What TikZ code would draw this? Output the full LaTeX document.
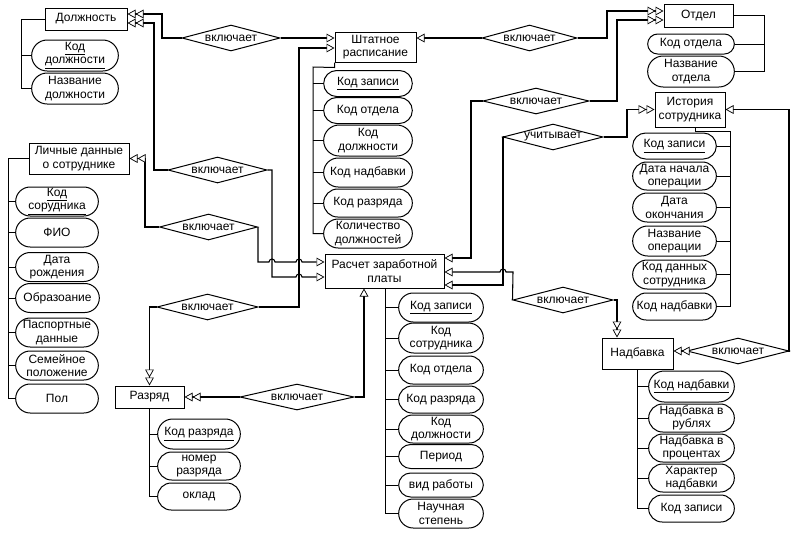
\documentclass[tikz,border=0pt]{standalone}
\usepackage{fontspec}
\setmainfont{Liberation Sans}
\usetikzlibrary{arrows.meta,shapes.geometric,shapes.misc,calc}
\begin{document}
\begin{tikzpicture}[x=0.75pt,y=-0.75pt,
  every node/.style={font=\fontsize{9pt}{10pt}\selectfont, line width=0.75pt},
  ent/.style 2 args={draw, rectangle, minimum width=#1*0.75pt, minimum height=#2*0.75pt, inner sep=0.5pt, align=center},
  attr/.style 2 args={draw, rounded rectangle, minimum width=#1*0.75pt, minimum height=#2*0.75pt, inner sep=0.5pt, align=center},
  rel/.style={draw, diamond, aspect=4, inner sep=0pt, minimum width=#1*0.75pt, minimum height=19.5pt},
  conn/.style={line width=0.8pt},
  sgl/.style={conn, -{Triangle[length=6pt,width=6.5pt,fill=white,line width=0.55pt]}},
  dbl/.style={conn, -{Triangle[length=6pt,width=6.5pt,fill=white,line width=0.55pt]Triangle[length=6pt,width=6.5pt,fill=white,line width=0.55pt]}},
  brk/.style={line width=0.75pt}
]
\useasboundingbox (0,0) rectangle (796,533);

% entities
\node[ent={82}{22}] (Dolzh) at (86,19) {Должность};
\node[ent={81}{30}] (Shtat) at (375.5,47) {Штатное\\расписание};
\node[ent={69}{23}] (Otdel) at (698.5,15.5) {Отдел};
\node[ent={70}{35}] (Istor) at (690,109.5) {История\\сотрудника};
\node[ent={100}{31}] (Lich) at (79,158.5) {Личные данные\\о сотруднике};
\node[ent={119}{34}] (Rasch) at (384.5,271) {Расчет заработной\\платы};
\node[ent={69}{22}] (Razr) at (149.5,397) {Разряд};
\node[ent={71}{31}] (Nadb) at (637.5,353.5) {Надбавка};

% attributes
\node[attr={88}{31}] (dk1) at (75,55.5) {\underline{Код}\\\underline{должности}};
\node[attr={88}{31}] (dk2) at (75,88.5) {Название\\должности};

\node[attr={88}{20}] (op1) at (691,44) {Код отдела};
\node[attr={88}{31}] (op2) at (691,71.5) {Название\\отдела};

\node[attr={90}{26}] (sp1) at (368,83.5) {\underline{Код записи}};
\node[attr={90}{26}] (sp2) at (368,110.5) {Код отдела};
\node[attr={90}{31}] (sp3) at (368,140.5) {Код\\должности};
\node[attr={90}{29}] (sp4) at (368,172.5) {Код надбавки};
\node[attr={90}{28}] (sp5) at (368,203) {Код разряда};
\node[attr={90}{29}] (sp6) at (368,233.5) {Количество\\должностей};

\node[attr={85}{26}] (ip1) at (674.5,146) {\underline{Код записи}};
\node[attr={85}{28}] (ip2) at (674.5,176) {Дата начала\\операции};
\node[attr={85}{29}] (ip3) at (674.5,207.5) {Дата\\окончания};
\node[attr={85}{30}] (ip4) at (674.5,241) {Название\\операции};
\node[attr={85}{29}] (ip5) at (674.5,274.5) {Код данных\\сотрудника};
\node[attr={85}{27}] (ip6) at (674.5,306.5) {Код надбавки};

\node[attr={84}{29}] (lp1) at (57,201.5) {\underline{Код}\\\underline{сорудника}};
\node[attr={84}{29}] (lp2) at (57,232.5) {ФИО};
\node[attr={84}{29}] (lp3) at (57,267) {Дата\\рождения};
\node[attr={85}{29}] (lp4) at (57.5,298) {Образоание};
\node[attr={84}{29}] (lp5) at (57,332.5) {Паспортные\\данные};
\node[attr={84}{29}] (lp6) at (57,365.5) {Семейное\\положение};
\node[attr={84}{29}] (lp7) at (57,398.5) {Пол};

\node[attr={86}{29}] (rp1) at (441,307.5) {\underline{Код записи}};
\node[attr={86}{30}] (rp2) at (441,338) {Код\\сотрудника};
\node[attr={86}{28}] (rp3) at (441,370) {Код отдела};
\node[attr={86}{27}] (rp4) at (441,399.5) {Код разряда};
\node[attr={86}{28}] (rp5) at (441,429) {Код\\должности};
\node[attr={86}{24}] (rp6) at (441,456.5) {Период};
\node[attr={86}{24}] (rp7) at (441,485) {вид работы};
\node[attr={86}{29}] (rp8) at (441,513.5) {Научная\\степень};

\node[attr={84}{30}] (zp1) at (199,434) {\underline{Код разряда}};
\node[attr={84}{28}] (zp2) at (199,466) {номер\\разряда};
\node[attr={84}{27}] (zp3) at (199,496.5) {оклад};

\node[attr={87}{31}] (np1) at (691.5,386.5) {\underline{Код надбавки}};
\node[attr={87}{28}] (np2) at (691.5,418) {Надбавка в\\рублях};
\node[attr={87}{28}] (np3) at (691.5,448) {Надбавка в\\процентах};
\node[attr={87}{28}] (np4) at (691.5,478) {Характер\\надбавки};
\node[attr={87}{27}] (np5) at (691.5,508.5) {Код записи};

% relationships
\node[rel=98] (D1) at (231,38) {включает};
\node[rel=95] (D2) at (529.5,38) {включает};
\node[rel=99] (D3) at (217.5,170) {включает};
\node[rel=98] (D4) at (208.5,227) {включает};
\node[rel=101] (D5) at (207.5,307) {включает};
\node[rel=114] (D6) at (297,397) {включает};
\node[rel=106] (D7) at (536,101) {включает};
\node[rel=100] (D8) at (553,137) {учитывает};
\node[rel=100] (D9) at (563,300) {включает};
\node[rel=102] (D10) at (738,351) {включает};

% attribute brackets
\coordinate (bD) at (21,19);
\draw[brk] (Dolzh.west) -- (bD) |- (dk2.west);
\draw[brk] (dk1.west) -- (dk1.west -| bD);

\coordinate (bO) at (764,15.5);
\draw[brk] (Otdel.east) -- (bO) |- (op2.east);
\draw[brk] (op1.east) -- (op1.east -| bO);

\coordinate (bS) at (313,67);
\draw[brk] (Shtat.south west) -- ++(0,5) -- (bS) |- (sp6.west);
\foreach \n in {sp1,sp2,sp3,sp4,sp5} \draw[brk] (\n.west) -- (\n.west -| bS);

\coordinate (bI) at (730,131);
\draw[brk] ($(Istor.south)+(5,0)$) |- (bI) |- (ip6.east);
\foreach \n in {ip1,ip2,ip3,ip4,ip5} \draw[brk] (\n.east) -- (\n.east -| bI);

\coordinate (bL) at (8,158.5);
\draw[brk] (Lich.west) -- (bL) |- (lp7.west);
\foreach \n in {lp1,lp2,lp3,lp4,lp5,lp6} \draw[brk] (\n.west) -- (\n.west -| bL);

\coordinate (bR) at (385,288);
\draw[brk] (bR) |- (rp8.west);
\foreach \n in {rp1,rp2,rp3,rp4,rp5,rp6,rp7} \draw[brk] (\n.west) -- (\n.west -| bR);

\draw[brk] (Razr.south) |- (zp3.west);
\foreach \n in {zp1,zp2} \draw[brk] (\n.west) -- (\n.west -| Razr.south);

\draw[brk] (Nadb.south) |- (np5.west);
\foreach \n in {np1,np2,np3,np4} \draw[brk] (\n.west) -- (\n.west -| Nadb.south);

% relationship connectors
\draw[dbl] (D1.west) -| (162,14) -- ($(Dolzh.east)+(0,-5)$);
\draw[sgl] (D1.east) -- ($(Shtat.west)+(0,-9)$);

\draw[dbl] (D3.west) -| (154,23) -- ($(Dolzh.east)+(0,4)$);
\draw[sgl] (D3.east) -| (272,277) -- (296,277) arc[start angle=180,end angle=0,radius=2.25pt] -- ($(Rasch.west)+(0,6)$);

\draw[dbl] (D4.west) -| (145,158.5) -- (Lich.east);
\draw[sgl] (D4.east) -| (258,262) -- (269,262) arc[start angle=180,end angle=0,radius=2.25pt] -- (296,262) arc[start angle=180,end angle=0,radius=2.25pt] -- ($(Rasch.west)+(0,-9)$);

\draw[dbl] (D5.west) -| (Razr.north);
\draw[sgl] (D5.east) -| (299,48) -- ($(Shtat.west)+(0,1)$);

\draw[dbl] (D6.west) -- (Razr.east);
\draw[sgl] (D6.east) -| ($(Rasch.south)+(-20.5,0)$);

\draw[sgl] (D2.west) -- ($(Shtat.east)+(0,-9)$);
\draw[dbl] (D2.east) -| (607,11) -- ($(Otdel.west)+(0,-4.5)$);

\draw[sgl] (D7.west) -| (471,258) -- ($(Rasch.east)+(0,-13)$);
\draw[dbl] (D7.east) -| (617,20) -- ($(Otdel.west)+(0,4.5)$);

\draw[sgl] (D8.west) -| (503,285) -- ($(Rasch.east)+(0,14)$);
\draw[dbl] (D8.east) -| (627,109.5) -- (Istor.west);

\draw[sgl] (D9.west) -- (513,272) -- (506,272) arc[start angle=0,end angle=180,radius=2.25pt] -- ($(Rasch.east)+(0,1)$);
\draw[dbl] (D9.east) -| ($(Nadb.north)+(-20.5,0)$);

\draw[sgl] (D10.east) -| (789,109.5) -- (Istor.east);
\draw[dbl] (D10.west) -- (Nadb.east |- D10.west);
\end{tikzpicture}
\end{document}
